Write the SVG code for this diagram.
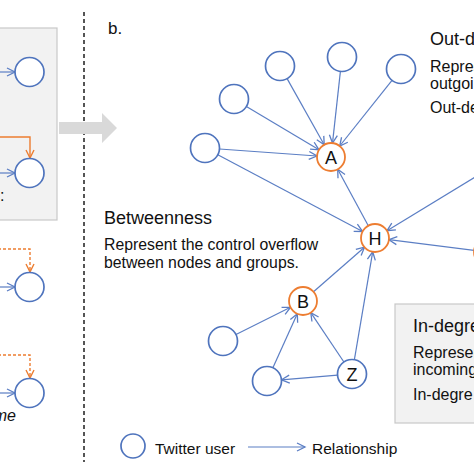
<svg xmlns="http://www.w3.org/2000/svg" width="474" height="474" viewBox="0 0 474 474">
<style>
.bl{fill:#fff;stroke:#4f74bd;stroke-width:1.7}
.or{fill:#fff;stroke:#ed7d31;stroke-width:1.8}
.e{stroke:#5b7ec4;stroke-width:1.2;fill:none;marker-end:url(#ab)}
.eo{stroke:#ed7d31;stroke-width:1.4;fill:none;marker-end:url(#ao)}
.t{font-family:"Liberation Sans",Arial,sans-serif;fill:#111}
.lbl{font-family:"Liberation Sans",Arial,sans-serif;font-size:18px;fill:#111;text-anchor:middle}
.box{fill:#f2f2f2;stroke:#c8c8c8;stroke-width:1.2}
</style>
<defs>
<marker id="ab" markerUnits="userSpaceOnUse" markerWidth="12" markerHeight="12" refX="9" refY="5" orient="auto"><path d="M1,1 L9,5 L1,9" fill="none" stroke="#5b7ec4" stroke-width="1.3"/></marker>
<marker id="ao" markerUnits="userSpaceOnUse" markerWidth="12" markerHeight="12" refX="9" refY="5" orient="auto"><path d="M1,1 L9,5 L1,9" fill="none" stroke="#ed7d31" stroke-width="1.4"/></marker>
</defs>
<rect width="474" height="474" fill="#fff"/>
<!-- left panel -->
<g id="panel-a">
<rect class="box" x="-5" y="28" width="62" height="192"/>
<line class="e" x1="-2" y1="72" x2="15" y2="72"/>
<circle class="bl" cx="29.5" cy="72" r="14.5"/>
<path class="eo" d="M-2,137 H30 V158"/>
<line class="e" x1="-2" y1="173" x2="15" y2="173"/>
<circle class="bl" cx="29.5" cy="173" r="14.5"/>
<text class="t" x="0" y="201" font-size="16">:</text>
<path class="eo" d="M-2,249 H30 V272" stroke-dasharray="3 2"/>
<line class="e" x1="-2" y1="287" x2="15" y2="287"/>
<circle class="bl" cx="29.5" cy="287" r="14.5"/>
<path class="eo" d="M-2,355 H30 V378" stroke-dasharray="3 2"/>
<line class="e" x1="-2" y1="393" x2="15" y2="393"/>
<circle class="bl" cx="29.5" cy="393" r="14.5"/>
<text class="t" x="16" y="421" font-size="16" font-style="italic" text-anchor="end">me</text>
</g>
<line x1="84" y1="12" x2="84" y2="462" stroke="#555" stroke-width="2" stroke-dasharray="4 3"/>
<path d="M59,122 H102 V113 L117,128 L102,143 V134 H59 Z" fill="#d9d9d9"/>
<text class="t" x="108" y="34" font-size="17">b.</text>
<!-- texts -->
<text class="t" x="430" y="45" font-size="18">Out-d</text>
<text class="t" x="430" y="72" font-size="16">Repres</text>
<text class="t" x="430" y="89" font-size="16">outgoi</text>
<text class="t" x="430" y="113" font-size="16">Out-de</text>
<text class="t" x="104" y="224" font-size="18">Betweenness</text>
<text class="t" x="104" y="250" font-size="15.8">Represent the control overflow</text>
<text class="t" x="104" y="268" font-size="15.8">between nodes and groups.</text>
<g id="box-in">
<rect class="box" x="395" y="304" width="90" height="119"/>
<text class="t" x="413" y="332" font-size="18">In-degre</text>
<text class="t" x="413" y="358" font-size="16">Represen</text>
<text class="t" x="413" y="375" font-size="16">incoming</text>
<text class="t" x="413" y="400" font-size="16">In-degre</text>
</g>
<!-- connectors -->
<g id="edges">
<line class="e" x1="219.5" y1="149" x2="317" y2="156"/>
<line class="e" x1="246.4" y1="106.4" x2="319" y2="149.8"/>
<line class="e" x1="287.1" y1="78.6" x2="324.2" y2="144.8"/>
<line class="e" x1="340.4" y1="71.4" x2="332.5" y2="143.1"/>
<line class="e" x1="392" y1="80.4" x2="339.7" y2="146"/>
<line class="e" x1="217.8" y1="154.8" x2="362.6" y2="231.5"/>
<line class="e" x1="368.3" y1="225.7" x2="337.7" y2="169.3"/>
<line class="e" x1="500" y1="162" x2="387" y2="230.7"/>
<line class="e" x1="474.1" y1="250.3" x2="388.9" y2="239.7"/>
<line class="e" x1="313.5" y1="291.8" x2="364.5" y2="247.2"/>
<line class="e" x1="354.4" y1="359.7" x2="372.7" y2="251.8"/>
<line class="e" x1="236" y1="334.5" x2="290.5" y2="307.3"/>
<line class="e" x1="272.9" y1="367.8" x2="297.3" y2="313.8"/>
<line class="e" x1="343.9" y1="362" x2="310.8" y2="312.6"/>
<line class="e" x1="337.5" y1="375.2" x2="281.5" y2="379.8"/>
</g>
<!-- nodes -->
<g id="n1"><circle class="bl" cx="205" cy="148" r="14.5"/></g>
<g id="n2"><circle class="bl" cx="234" cy="99" r="14.5"/></g>
<g id="n3"><circle class="bl" cx="280" cy="66" r="14.5"/></g>
<g id="n4"><circle class="bl" cx="342" cy="57" r="14.5"/></g>
<g id="n5"><circle class="bl" cx="401" cy="69" r="14.5"/></g>
<g id="nA"><circle class="or" cx="331" cy="157" r="14"/><text class="lbl" x="331" y="163.5">A</text></g>
<g id="nH"><circle class="or" cx="375" cy="238" r="14"/><text class="lbl" x="375" y="244.5">H</text></g>
<g id="nB"><circle class="or" cx="303" cy="301" r="14"/><text class="lbl" x="303" y="307.5">B</text></g>
<g id="nZ"><circle class="bl" cx="352" cy="374" r="14.5"/><text class="lbl" x="352" y="380.5">Z</text></g>
<g id="n6"><circle class="bl" cx="223" cy="341" r="14.5"/></g>
<g id="n7"><circle class="bl" cx="267" cy="381" r="14.5"/></g>
<g id="nR"><circle class="or" cx="488" cy="252" r="14"/></g>
<!-- legend -->
<g id="legend">
<circle class="bl" cx="133" cy="446" r="12"/>
<text class="t" x="155" y="454" font-size="15.5">Twitter user</text>
<line class="e" x1="248" y1="447" x2="305" y2="447"/>
<text class="t" x="312" y="454" font-size="15.5">Relationship</text>
</g>
</svg>
